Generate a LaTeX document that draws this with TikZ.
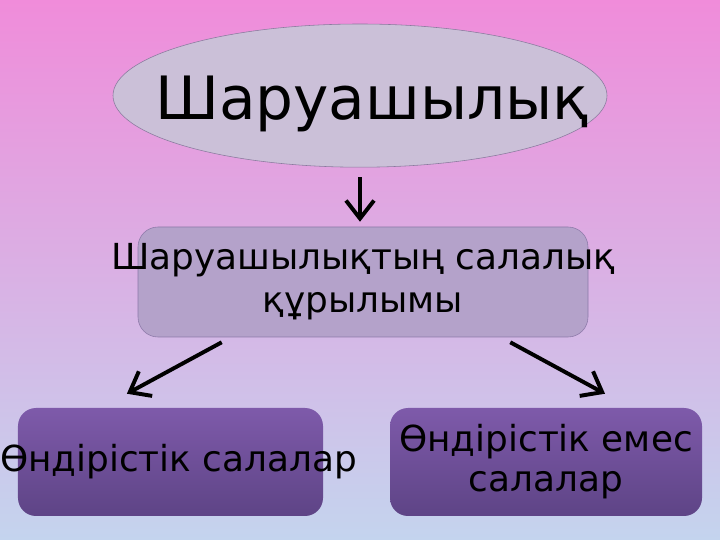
\documentclass[tikz,border=0pt]{standalone}
\usepackage{fontspec}
\setmainfont{DejaVu Sans}
\usetikzlibrary{shapes.geometric,arrows.meta}
\definecolor{bgtop}{HTML}{F08CDA}
\definecolor{bgmid}{HTML}{DBA8E2}
\definecolor{bgbot}{HTML}{C4D4EE}
\definecolor{farmfill}{HTML}{CBC0D8}
\definecolor{farmline}{HTML}{8A7A9E}
\definecolor{branchfill}{HTML}{B4A2CA}
\definecolor{branchline}{HTML}{8C78A8}
\definecolor{sectop}{HTML}{7E5AAA}
\definecolor{secbot}{HTML}{5E4486}

\begin{document}
\begin{tikzpicture}[
    flow/.style={line width=2.8pt, -{Straight Barb[length=0.45cm, width=0.7cm]}},
    sector/.style={shape=rectangle, rounded corners=0.45cm, top color=sectop, bottom color=secbot,
      minimum height=2.7cm, align=center, font=\fontsize{25.5}{28.5}\selectfont}
  ]
    \useasboundingbox (0,0) rectangle (18,13.5);
    \shade[top color=bgtop, middle color=bgmid, bottom color=bgbot] (0,0) rectangle (18,13.5);

    \node at (9, 11.11) (farm) [shape=ellipse, fill=farmfill, draw=farmline, minimum width=12.35cm, minimum height=3.58cm] {};
    \node at (9.3, 10.5) (farmtext) [anchor=base, font=\fontsize{42.5}{50}\selectfont] {Шаруашылық};

    \node at (9.075, 6.45) (branches) [shape=rectangle, rounded corners=0.5cm, fill=branchfill, draw=branchline,
      minimum width=11.25cm, minimum height=2.75cm, align=center, font=\fontsize{25.5}{30.6}\selectfont]
      {\makebox[0pt]{Шаруашылықтың салалық}\\құрылымы};

    \node at (4.2625, 1.95) (prod) [sector, minimum width=7.625cm] {\makebox[0pt]{\hspace{0.4cm}Өндірістік салалар}};
    \node at (13.65, 1.95) (nonprod) [sector, minimum width=7.8cm] {Өндірістік емес\\салалар};

    \draw[flow] ([yshift=-0.25cm]farm.south) -- ([yshift=0.125cm]farm.south |- branches.north);
    \draw[flow] ([shift={(2.1,-0.125)}]branches.south west) -- ([shift={(-1.09,0.35)}]prod.north);
    \draw[flow] ([shift={(-1.95,-0.125)}]branches.south east) -- ([shift={(1.475,0.35)}]nonprod.north);
\end{tikzpicture}
\end{document}
